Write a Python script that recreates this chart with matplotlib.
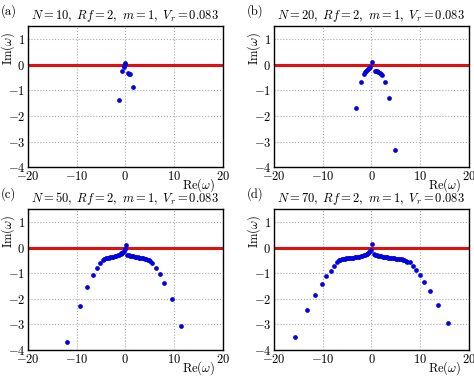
import matplotlib
matplotlib.use('Agg')
import matplotlib.pyplot as plt

plt.rcParams['mathtext.fontset'] = 'cm'
plt.rcParams['font.family'] = 'serif'
plt.rcParams['font.serif'] = ['cmr10', 'DejaVu Serif']
plt.rcParams['axes.unicode_minus'] = False
plt.rcParams['axes.formatter.use_mathtext'] = True

# eigenvalues
re_a = [-0.04, 0.0, -0.37, -0.66, 0.57, 0.8, 0.98, 1.6, -1.33, -0.2]
im_a = [0.07, 0.02, -0.11, -0.24, -0.32, -0.35, -0.38, -0.87, -1.37, -0.05]

re_b = [0.04, -0.3, -0.5, -0.7, -0.9, -1.1, -1.3, -1.6, -2.15, -3.25,
        0.7, 0.9, 1.1, 1.4, 1.7, 2.0, 2.2, 2.7, 3.6, 4.8]
im_b = [0.11, -0.09, -0.13, -0.18, -0.22, -0.26, -0.3, -0.36, -0.69, -1.68,
        -0.24, -0.25, -0.26, -0.28, -0.31, -0.35, -0.4, -0.67, -1.32, -3.35]

re_c = [-11.9, -9.4, -7.9, -6.7, -5.9, -5.3,
        -4.6, -4.3, -4.0, -3.7, -3.4, -3.1, -2.8, -2.5, -2.2, -1.9, -1.6, -1.3,
        -1.0, -0.8, -0.6, -0.4, -0.25, -0.1,
        0.2,
        0.4, 0.7, 1.0, 1.3, 1.6, 1.9, 2.2, 2.5, 2.8, 3.1, 3.4, 3.7, 4.0, 4.3,
        4.6, 4.9, 5.1,
        5.5, 6.3, 7.1, 8.0, 9.5, 11.4]
im_c = [-3.67, -2.26, -1.54, -1.05, -0.8, -0.6,
        -0.47, -0.44, -0.42, -0.41, -0.40, -0.38, -0.37, -0.35, -0.33, -0.31,
        -0.29, -0.27, -0.24, -0.22, -0.19, -0.16, -0.12, -0.06,
        0.11,
        -0.27, -0.29, -0.31, -0.32, -0.34, -0.35, -0.36, -0.38, -0.39, -0.40,
        -0.41, -0.42, -0.43, -0.45, -0.47, -0.5, -0.53,
        -0.6, -0.79, -1.03, -1.38, -2.0, -3.04]

re_d = [-15.6, -13.3, -11.6, -10.2, -9.3, -8.3, -7.7,
        -7.0, -6.7, -6.4, -6.1, -5.8, -5.5, -5.2, -4.9, -4.6, -4.3, -4.0, -3.7,
        -3.4, -3.1, -2.8, -2.5, -2.2, -1.9, -1.6, -1.3, -1.0, -0.8, -0.6, -0.4,
        -0.25, -0.1,
        0.16,
        0.5, 0.8, 1.1, 1.4, 1.7, 2.0, 2.3, 2.6, 2.9, 3.2, 3.5, 3.8, 4.1, 4.4,
        4.7, 5.0, 5.3, 5.6, 5.9, 6.2, 6.5, 6.8, 7.1, 7.3,
        7.9, 8.45, 9.1, 9.95, 10.8, 12.1, 13.7, 15.75]
im_d = [-3.48, -2.44, -1.83, -1.42, -1.09, -0.9, -0.7,
        -0.55, -0.5, -0.47, -0.45, -0.44, -0.43, -0.42, -0.42, -0.41, -0.40,
        -0.40, -0.39, -0.38, -0.37, -0.36, -0.35, -0.33, -0.32, -0.30, -0.28,
        -0.26, -0.24, -0.21, -0.18, -0.14, -0.08,
        0.15,
        -0.24, -0.27, -0.29, -0.31, -0.32, -0.33, -0.35, -0.36, -0.37, -0.38,
        -0.39, -0.40, -0.41, -0.41, -0.42, -0.43, -0.43, -0.44, -0.45, -0.46,
        -0.47, -0.49, -0.52, -0.55,
        -0.57, -0.73, -0.88, -1.07, -1.34, -1.71, -2.23, -2.93]

panels = [('(a)', 10, re_a, im_a), ('(b)', 20, re_b, im_b),
          ('(c)', 50, re_c, im_c), ('(d)', 70, re_d, im_d)]

fig = plt.figure(figsize=(4.74, 3.86), dpi=100)
boxes = [(0.059, 0.567), (0.578, 0.567), (0.059, 0.093), (0.578, 0.093)]

for (tag, n, re, im), (x0, y0) in zip(panels, boxes):
    ax = fig.add_axes([x0, y0, 0.411, 0.365])
    ax.axhline(0, color='#e01010', lw=2.2, zorder=2)
    ax.plot(re, im, 'o', color='#0000e0', ms=3.4, mec='none', zorder=3)
    ax.set_xlim(-20, 20)
    ax.set_ylim(-4, 1.5)
    ax.set_xticks([-20, -10, 0, 10, 20])
    ax.set_yticks([-4, -3, -2, -1, 0, 1])
    ax.grid(True, ls=':', color='#aaaaaa', lw=0.8)
    ax.tick_params(length=0, labelsize=9, pad=2)
    for s in ax.spines.values():
        s.set_linewidth(1.0)
    ax.set_title(r'$N=%d,\ Rf=2,\ m=1,\ V_r=0.083$' % n, fontsize=9, pad=5)
    ax.set_ylabel(r'$\mathrm{Im}(\omega)$', fontsize=9, va='center')
    ax.yaxis.set_label_coords(-0.1, 0.84)
    ax.set_xlabel(r'$\mathrm{Re}(\omega)$', fontsize=9, ha='right', va='center')
    ax.xaxis.set_label_coords(0.96, -0.125)
    ax.text(-0.14, 1.06, tag, transform=ax.transAxes, fontsize=9,
            ha='left', va='bottom')

fig.savefig('out.png', dpi=100)
